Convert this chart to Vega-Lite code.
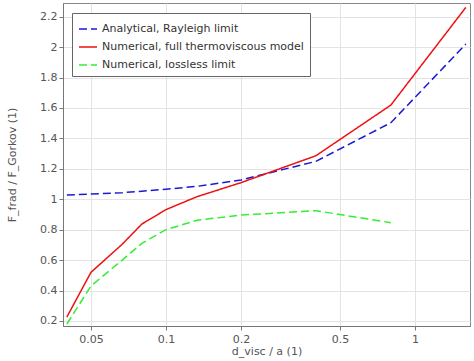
{
  "$schema": "https://vega.github.io/schema/vega-lite/v6.json",
  "autosize": "none",
  "width": 407,
  "height": 323,
  "padding": {"left": 63, "top": 3, "right": 4, "bottom": 35},
  "background": "white",
  "config": {
    "font": "DejaVu Sans",
    "view": {"stroke": "#888888", "strokeWidth": 1},
    "axis": {
      "labelFont": "DejaVu Sans",
      "titleFont": "DejaVu Sans",
      "labelFontSize": 11,
      "titleFontSize": 11,
      "titleFontWeight": "normal",
      "labelColor": "#555555",
      "titleColor": "#555555",
      "domainColor": "#777777",
      "tickColor": "#777777",
      "gridColor": "#e3e3e3",
      "tickSize": 4
    }
  },
  "data": {
    "values": [
      {"x": 0.04, "y": 1.028, "series": "Analytical, Rayleigh limit"},
      {"x": 0.05, "y": 1.034, "series": "Analytical, Rayleigh limit"},
      {"x": 0.0667, "y": 1.043, "series": "Analytical, Rayleigh limit"},
      {"x": 0.08, "y": 1.053, "series": "Analytical, Rayleigh limit"},
      {"x": 0.1, "y": 1.066, "series": "Analytical, Rayleigh limit"},
      {"x": 0.1333, "y": 1.085, "series": "Analytical, Rayleigh limit"},
      {"x": 0.2, "y": 1.127, "series": "Analytical, Rayleigh limit"},
      {"x": 0.4, "y": 1.249, "series": "Analytical, Rayleigh limit"},
      {"x": 0.8, "y": 1.503, "series": "Analytical, Rayleigh limit"},
      {"x": 1.6, "y": 2.02, "series": "Analytical, Rayleigh limit"},
      {"x": 0.04, "y": 0.226, "series": "Numerical, full thermoviscous model"},
      {"x": 0.05, "y": 0.52, "series": "Numerical, full thermoviscous model"},
      {"x": 0.0667, "y": 0.704, "series": "Numerical, full thermoviscous model"},
      {"x": 0.08, "y": 0.837, "series": "Numerical, full thermoviscous model"},
      {"x": 0.1, "y": 0.932, "series": "Numerical, full thermoviscous model"},
      {"x": 0.1333, "y": 1.017, "series": "Numerical, full thermoviscous model"},
      {"x": 0.2, "y": 1.109, "series": "Numerical, full thermoviscous model"},
      {"x": 0.4, "y": 1.286, "series": "Numerical, full thermoviscous model"},
      {"x": 0.8, "y": 1.619, "series": "Numerical, full thermoviscous model"},
      {"x": 1.6, "y": 2.261, "series": "Numerical, full thermoviscous model"},
      {"x": 0.04, "y": 0.18, "series": "Numerical, lossless limit"},
      {"x": 0.05, "y": 0.43, "series": "Numerical, lossless limit"},
      {"x": 0.0667, "y": 0.6, "series": "Numerical, lossless limit"},
      {"x": 0.08, "y": 0.71, "series": "Numerical, lossless limit"},
      {"x": 0.1, "y": 0.8, "series": "Numerical, lossless limit"},
      {"x": 0.1333, "y": 0.862, "series": "Numerical, lossless limit"},
      {"x": 0.2, "y": 0.896, "series": "Numerical, lossless limit"},
      {"x": 0.4, "y": 0.925, "series": "Numerical, lossless limit"},
      {"x": 0.8, "y": 0.846, "series": "Numerical, lossless limit"}
    ]
  },
  "mark": {"type": "line", "strokeWidth": 1.5, "clip": true},
  "encoding": {
    "x": {
      "field": "x",
      "type": "quantitative",
      "scale": {"type": "log", "domain": [0.0386, 1.663], "nice": false},
      "axis": {
        "title": "d_visc / a (1)",
        "values": [0.05, 0.1, 0.2, 0.5, 1],
        "labelExpr": "'' + datum.value",
        "titlePadding": 1,
        "labelPadding": 3,
        "labelFlush": false
      }
    },
    "y": {
      "field": "y",
      "type": "quantitative",
      "scale": {"domain": [0.167, 2.29], "nice": false, "zero": false},
      "axis": {
        "title": "F_frad / F_Gorkov (1)",
        "values": [0.2, 0.4, 0.6, 0.8, 1, 1.2, 1.4, 1.6, 1.8, 2, 2.2],
        "labelExpr": "'' + datum.value",
        "titlePadding": 22,
        "labelFlush": false
      }
    },
    "color": {
      "field": "series",
      "type": "nominal",
      "title": null,
      "scale": {
        "domain": ["Analytical, Rayleigh limit", "Numerical, full thermoviscous model", "Numerical, lossless limit"],
        "range": ["#1a1ad4", "#ee1111", "#33ee33"]
      },
      "legend": {
        "orient": "none",
        "legendX": 9,
        "legendY": 10,
        "symbolType": "stroke",
        "symbolSize": 324,
        "symbolStrokeWidth": 1.5,
        "labelFontSize": 11,
        "labelColor": "#333333",
        "labelFont": "DejaVu Sans",
        "strokeColor": "#666666",
        "fillColor": "white",
        "padding": 6,
        "rowPadding": 3,
        "labelLimit": 300
      }
    },
    "strokeDash": {
      "field": "series",
      "type": "nominal",
      "title": null,
      "scale": {
        "domain": ["Analytical, Rayleigh limit", "Numerical, full thermoviscous model", "Numerical, lossless limit"],
        "range": [[8, 4], [1, 0], [8, 4]]
      }
    }
  }
}
